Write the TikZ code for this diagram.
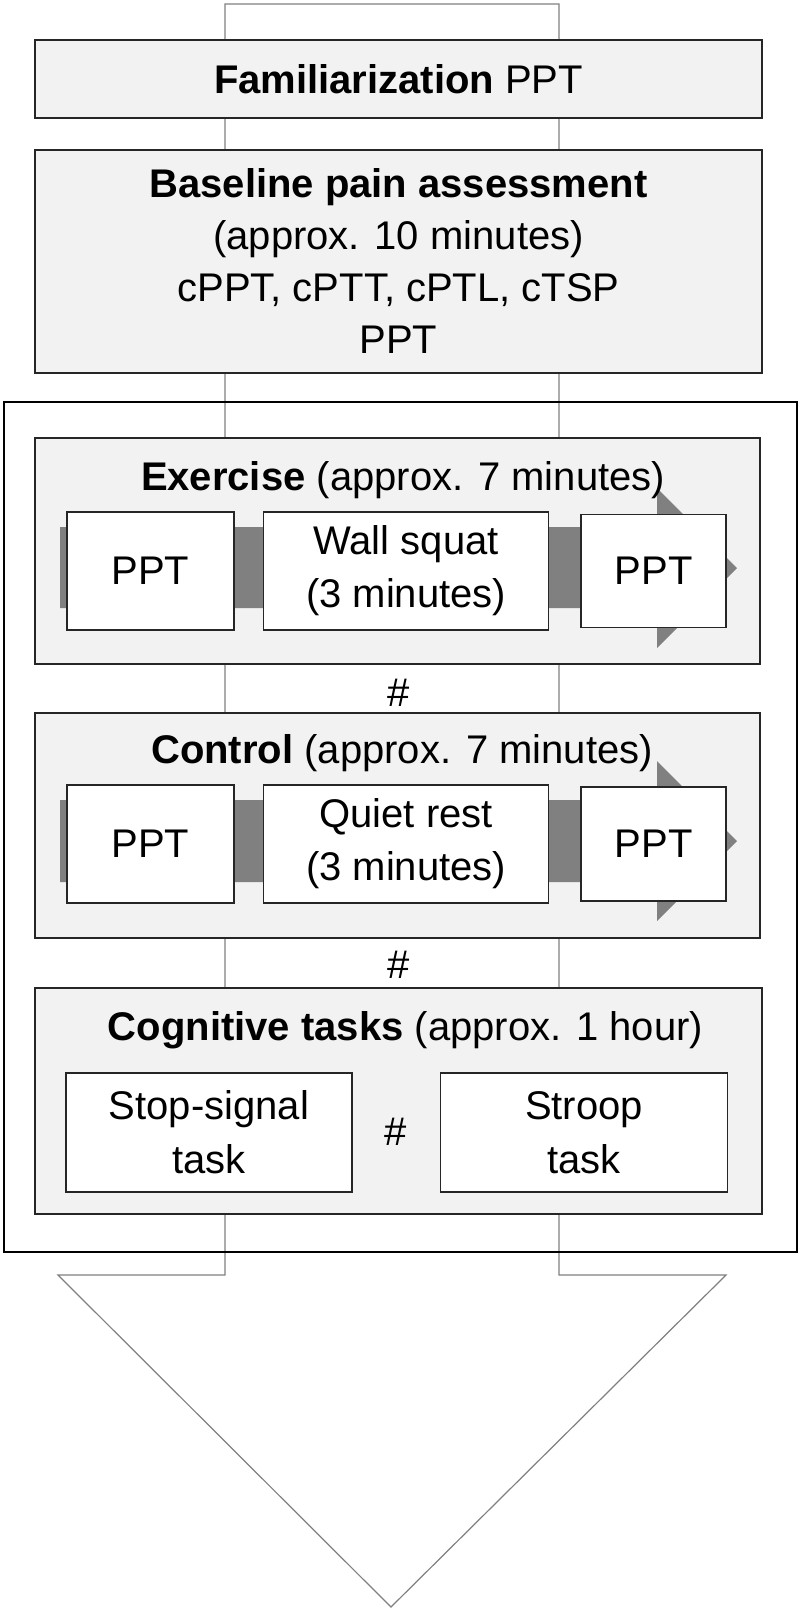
\documentclass[tikz,border=0pt]{standalone}
\usepackage{fontspec}
\setmainfont{Liberation Sans}
\usepackage{tikz}
\usetikzlibrary{positioning}

\newcommand{\lbl}{\fontsize{20}{26.5}\selectfont}

\begin{document}
\begin{tikzpicture}[
  x=0.5pt, y=-0.5pt,
  panel/.style={draw=black!85, line width=0.9pt, fill=black!5, minimum width=362.5pt, minimum height=113pt, inner sep=0pt, align=center, font=\lbl},
  box/.style={draw=black!85, line width=0.8pt, fill=white, minimum height=59pt, inner sep=0pt, align=center, font=\lbl},
  frame/.style={draw=black, line width=0.9pt, minimum width=396.5pt, minimum height=425pt, inner sep=0pt},
  ttl/.style={font=\lbl, inner sep=0pt, anchor=base},
  band/.style={fill=black!50},
  shaft/.style={draw=black!50, line width=0.6pt},
]
\useasboundingbox (0,0) rectangle (800,1612);

% Big arrow behind everything
\draw[shaft] (225,4) -- (559,4) -- (559,1275) -- (726,1275) -- (391,1607) -- (58,1275) -- (225,1275) -- cycle;

% Outer frame
\node[frame] (frame) at (400.5,827) {};

% Familiarization + baseline
\node[panel, minimum width=363.5pt, minimum height=39pt] (fam) at (398.5,79) {\textbf{Familiarization} PPT};
\node[panel, minimum width=363.5pt, minimum height=111.5pt, font=\fontsize{20}{26}\selectfont] (base) at (398.5,261.5)
  {\textbf{Baseline pain assessment}\\(approx. 10 minutes)\\cPPT, cPTT, cPTL, cTSP\\PPT};

% Exercise
\node[panel] (exer) at (397.5,551) {};
\fill[band] (60,527) -- (657,527) -- (657,488) -- (737,568) -- (657,648) -- (657,608) -- (60,608) -- cycle;
\node[ttl] (exerT) at (403,490) {\textbf{Exercise} (approx. 7 minutes)};
\node[box, minimum width=83.5pt] (pre1) at (150.5,571) {PPT};
\node[box, minimum width=142.5pt, right=14pt of pre1] (squat) {Wall squat\\(3 minutes)};
\node[box, minimum width=72.5pt, minimum height=56.5pt, right=15.5pt of squat] (post1) {PPT};

\node[font=\lbl, inner sep=0pt] (hashA) at (399,693) {\#};

% Control
\node[panel, minimum height=112.5pt] (ctrl) at (397.5,825.5) {};
\fill[band] (60,800) -- (657,800) -- (657,761) -- (737,841) -- (657,921) -- (657,882) -- (60,882) -- cycle;
\node[ttl] (ctrlT) at (402,763) {\textbf{Control} (approx. 7 minutes)};
\node[box, minimum width=83.5pt] (pre2) at (150.5,844) {PPT};
\node[box, minimum width=142.5pt, right=14pt of pre2] (quiet) {Quiet rest\\(3 minutes)};
\node[box, minimum width=72.5pt, minimum height=57pt, right=15.5pt of quiet] (post2) {PPT};

\node[font=\lbl, inner sep=0pt] (hashB) at (399,965) {\#};

% Cognitive tasks
\node[panel, minimum width=363.5pt] (cogn) at (398.5,1101) {};
\node[ttl] (cognT) at (405.5,1040) {\textbf{Cognitive tasks} (approx. 1 hour)};
\node[box, minimum width=143pt, minimum height=59.5pt, font=\fontsize{20}{27}\selectfont] (stop) at (209,1132.5) {Stop-signal\\task};
\node[box, minimum width=143.5pt, minimum height=59.5pt, font=\fontsize{20}{27}\selectfont, right=43.5pt of stop] (stroop) {Stroop\\task};
\node[font=\lbl, inner sep=0pt] (hashC) at (395.5,1132) {\#};

\end{tikzpicture}
\end{document}
